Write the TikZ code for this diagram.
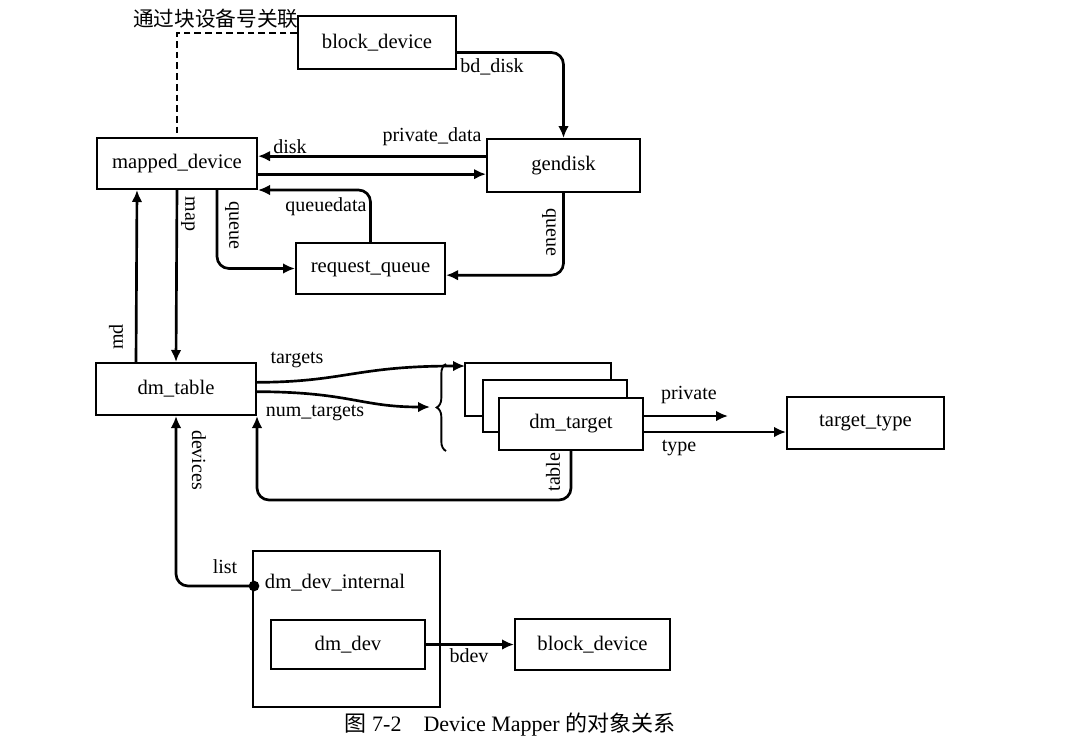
\documentclass[tikz,border=0pt]{standalone}
\usepackage{fontspec}
\setmainfont{Liberation Serif}
\newfontfamily\cjk{Noto Sans CJK SC}
\usetikzlibrary{arrows.meta,decorations.pathreplacing}
\begin{document}
\begin{tikzpicture}[x=0.75pt,y=-0.75pt,
 box/.style={draw,line width=1.5pt,rectangle,inner sep=0pt,font=\fontsize{15.5}{17}\selectfont},
 arr/.style={line width=2pt,-{Latex[length=9pt,width=8pt]},rounded corners=9pt},
 lbl/.style={font=\fontsize{15}{17}\selectfont,inner sep=1pt}]
\useasboundingbox (0,0) rectangle (1080,749);
\node[box,minimum width=158*0.75pt,minimum height=53*0.75pt] (bd1) at (377,42.5) {block\_device};
\node[box,minimum width=160*0.75pt,minimum height=51*0.75pt] (md) at (177,163.5) {mapped\_device};
\node[box,minimum width=153*0.75pt,minimum height=53*0.75pt] (gd) at (563.5,165.5) {gendisk};
\node[box,minimum width=149*0.75pt,minimum height=51*0.75pt] (rq) at (370.5,268.5) {request\_queue};
\node[box,minimum width=160*0.75pt,minimum height=52*0.75pt] (dt) at (176,389) {dm\_table};
\node[box,minimum width=146*0.75pt,minimum height=53*0.75pt] (bk) at (538,389.5) {};
\node[box,fill=white,minimum width=144*0.75pt,minimum height=52*0.75pt] (mid) at (555,406) {};
\node[box,fill=white,minimum width=144*0.75pt,minimum height=52*0.75pt] (tg) at (571,424) {dm\_target};
\node[box,minimum width=157*0.75pt,minimum height=52*0.75pt] (tt) at (865.5,423) {target\_type};
\node[box,minimum width=187*0.75pt,minimum height=156*0.75pt] (di) at (346.5,629) {};
\node[lbl,font=\fontsize{15.5}{17}\selectfont] (dil) at (335,583) {dm\_dev\_internal};
\node[box,minimum width=154*0.75pt,minimum height=49*0.75pt] (dd) at (348,644.5) {dm\_dev};
\node[box,minimum width=155*0.75pt,minimum height=51*0.75pt] (bd2) at (592.5,644.5) {block\_device};
\node[font=\fontsize{16.5}{18}\selectfont] (cap) at (510,725) {{\cjk 图} 7-2\quad Device Mapper {\cjk 的对象关系}};
% dashed
\node[lbl,anchor=east,font=\cjk\fontsize{15.5}{17}\selectfont] (cn) at (300,19) {通过块设备号关联};
\draw[line width=1.5pt,dash pattern=on 5pt off 3pt] ([yshift=7pt]bd1.west) -| (md.north);
% bd_disk
\draw[arr] ([yshift=-7.5pt]bd1.east) -| (gd.north);
\node[lbl] (l1) at (492,67) {bd\_disk};
% disk / private_data
\draw[arr] ([yshift=7pt]gd.west) -- ([yshift=7pt]md.east |- gd.west);
\node[lbl] (l2) at (290,147) {disk};
\node[lbl] (l3) at (432,137) {private\_data};
\draw[arr] ([yshift=-8pt]md.east) -- ([yshift=-8pt]md.east -| gd.west);
% queuedata
\draw[arr] (rq.north) |- (md.south east);
\node[lbl] (l4) at (326,207) {queuedata};
% queue from md
\draw[arr] ([xshift=30pt]md.south) |- (rq.west);
\node[lbl,rotate=-90] (l5) at (232,225) {queue};
\draw[arr] (gd.south) |- ([yshift=-5pt]rq.east);
\node[lbl,rotate=-90] (l6) at (549,232) {queue};
% map / md
\draw[arr] (md.south) -- (dt.north);
\node[lbl,rotate=-90] (l7) at (188,214) {map};
\draw[arr] ([xshift=-30pt]dt.north) -- ([xshift=-30pt]md.south);
\node[lbl,rotate=90] (l8) at (116,337) {md};
% targets
\coordinate (t1) at (465,366);
\coordinate (t2) at (430,407);
\draw[arr] ([yshift=5pt]dt.east) .. controls (345,382) and (355,366) .. (t1);
\draw[arr] ([yshift=-2pt]dt.east) .. controls (350,392) and (360,407) .. (t2);
\node[lbl] (l9) at (297,360) {targets};
\node[lbl] (l10) at (315,413) {num\_targets};
\draw[line width=1.4pt,decorate,decoration={brace,amplitude=7pt}] (446,451) -- (446,364);
% table
\draw[arr] (tg.south) |- (450,500) -| (dt.south east);
\node[lbl,rotate=90] (l11) at (553,472) {table};
% private / type
\coordinate (pv) at (728,416);
\draw[arr] (tg.east |- pv) -- (pv);
\node[lbl] (l12) at (689,395) {private};
\draw[arr] ([yshift=-6pt]tg.east) -- ([yshift=-6pt]tg.east -| tt.west);
\node[lbl] (l13) at (679,448) {type};
% devices
\fill (254,586) circle (4pt) coordinate (dot);
\draw[arr] (dot) -| (dt.south);
\node[lbl,rotate=-90] (l14) at (199,460) {devices};
\node[lbl] (l15) at (225,567) {list};
% bdev
\draw[arr] (dd.east) -- (bd2.west);
\node[lbl] (l16) at (469,656) {bdev};
\end{tikzpicture}
\end{document}
